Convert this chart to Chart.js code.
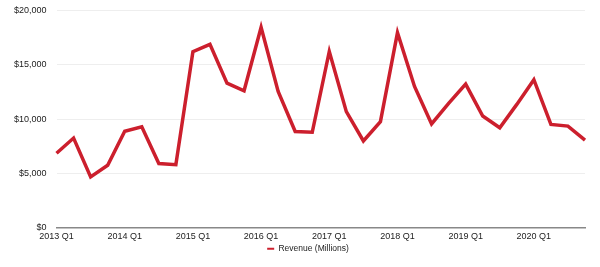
<!DOCTYPE html>
<html>
<head>
<meta charset="utf-8">
<script src="https://cdn.jsdelivr.net/npm/chart.js@4"></script>
<style>
html,body{margin:0;padding:0;background:#fff;}
#wrap{width:600px;height:267px;}
</style>
</head>
<body>
<div id="wrap"><canvas id="c" width="600" height="267"></canvas></div>
<script>
const categories = [
  "2013 Q1","2013 Q2","2013 Q3","2013 Q4",
  "2014 Q1","2014 Q2","2014 Q3","2014 Q4",
  "2015 Q1","2015 Q2","2015 Q3","2015 Q4",
  "2016 Q1","2016 Q2","2016 Q3","2016 Q4",
  "2017 Q1","2017 Q2","2017 Q3","2017 Q4",
  "2018 Q1","2018 Q2","2018 Q3","2018 Q4",
  "2019 Q1","2019 Q2","2019 Q3","2019 Q4",
  "2020 Q1","2020 Q2","2020 Q3","2020 Q4"
];
const revenue = [
  6850, 8250, 4680, 5750,
  8880, 9290, 5900, 5800,
  16200, 16880, 13300, 12600,
  18450, 12550, 8850, 8780,
  16220, 10680, 7980, 9760,
  17950, 13000, 9550, 11450,
  13220, 10280, 9200, 11350,
  13620, 9500, 9350, 8060
];
const seriesName = "Revenue (Millions)";
const yTicks = [0, 5000, 10000, 15000, 20000];

const red = "#cc1f2d";
const fam = "'Liberation Sans', Arial, Helvetica, sans-serif";
const font = {family: fam, size: 9};
const textColor = '#222';

const shiftLegend = {
  id: 'shiftLegend',
  afterLayout(chart) {
    if (chart.legend) {
      chart.legend.left += 11; chart.legend.right += 11;
      chart.legend.top -= 2; chart.legend.bottom -= 2;
    }
  }
};

new Chart(document.getElementById('c'), {
  type: 'line',
  data: {
    labels: categories,
    datasets: [{
      label: seriesName,
      data: revenue,
      borderColor: red,
      backgroundColor: red,
      borderWidth: 3.5,
      pointRadius: 0,
      tension: 0,
      fill: false
    }]
  },
  options: {
    responsive: false,
    animation: false,
    devicePixelRatio: 1,
    layout: {padding: {left: 9, right: 15, top: 0, bottom: 2}},
    plugins: {
      tooltip: {enabled: false},
      legend: {
        position: 'bottom',
        labels: {
          font: {family: fam, size: 8.5},
          color: textColor,
          boxWidth: 7,
          boxHeight: 2,
          padding: 2,
          generateLabels: (chart) => [{
            text: seriesName,
            fillStyle: red,
            strokeStyle: red,
            lineWidth: 0,
            datasetIndex: 0,
            fontColor: textColor
          }]
        }
      }
    },
    scales: {
      x: {
        offset: false,
        grid: {display: false, drawTicks: false},
        border: {display: true, color: '#888', width: 1.5},
        ticks: {
          autoSkip: false,
          maxRotation: 0,
          minRotation: 0,
          padding: 3,
          font: font,
          color: textColor,
          callback: function(v, i) { return i % 4 === 0 ? categories[i] : ''; }
        }
      },
      y: {
        min: 0,
        max: 20000,
        afterBuildTicks: (axis) => { axis.ticks = yTicks.map(v => ({value: v})); },
        grid: {color: '#eeeeee', drawTicks: true, tickLength: 5, tickColor: 'rgba(0,0,0,0)', lineWidth: 1},
        border: {display: false},
        ticks: {
          padding: 5,
          font: font,
          color: textColor,
          callback: (v) => '$' + Number(v).toLocaleString('en-US')
        }
      }
    }
  },
  plugins: [shiftLegend]
});
</script>
</body>
</html>
